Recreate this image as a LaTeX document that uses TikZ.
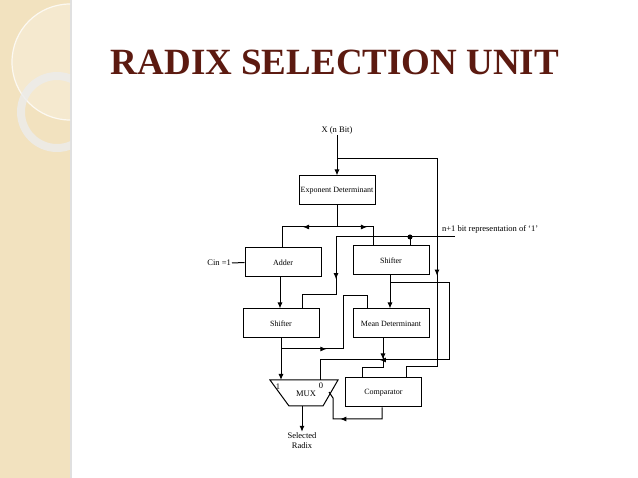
\documentclass[tikz,border=0pt]{standalone}
\usepackage{fontspec}
\setmainfont{Liberation Serif}
\usetikzlibrary{arrows.meta,decorations.markings}
\definecolor{strip}{HTML}{F2E2BF}
\definecolor{titlec}{HTML}{5C1A10}
\tikzset{
  box/.style={draw,line width=1pt,minimum width=76pt,minimum height=29pt,inner sep=0pt,font=\fontsize{8}{9}\selectfont},
  lbl/.style={font=\fontsize{8.5}{10}\selectfont,inner sep=1pt},
  wire/.style={draw,line width=1pt},
  mid/.style={postaction={decorate},decoration={markings,mark=at position #1 with {\arrow{Latex[length=6pt,width=5pt]}}}},
  tip/.style={-{Latex[length=6pt,width=5pt]}}
}
\begin{document}
\begin{tikzpicture}[x=1pt,y=-1pt]
\useasboundingbox (0,0) rectangle (638,478);
\fill[strip] (0,0) rectangle (70,478);
\fill[black!12] (70,0) rectangle (72,478);
\begin{scope}
\clip (0,0) rectangle (70,478);
\fill[white,opacity=0.25] (70,62) circle (58);
\draw[white!80!strip,line width=1.2pt] (70,62) circle (58);
\draw[white!85!gray,line width=8pt,opacity=0.8] (57,112) circle (36);
\end{scope}
\node[font=\bfseries\fontsize{37}{40}\selectfont,text=titlec] (title) at (335,62) {RADIX SELECTION UNIT};

% nodes
\node[lbl] (x) at (337,130) {X (n Bit)};
\node[box] (exp) at (337,190.5) {Exponent Determinant};
\node[box] (add) at (283,262.5) {Adder};
\node[box] (sh1) at (391,260.5) {Shifter};
\node[box] (sh2) at (281,323.5) {Shifter};
\node[box] (mean) at (391,323.5) {Mean Determinant};
\node[box] (cmp) at (383.5,392.5) {Comparator};
\node[lbl,anchor=east] (cin) at (232,263) {Cin =1};
\node[lbl,anchor=west] (rep) at (441,229) {n+1 bit representation of `1'};
\draw[line width=1pt] (270,380) -- (338,380) -- (323,406) -- (289,406) -- cycle;
\coordinate (muxt1) at (281,380);
\coordinate (muxt0) at (320,380);
\coordinate (muxb) at (302,406);
\node[lbl] (m1) at (278,387) {1};
\node[lbl] (m0) at (321,386) {0};
\node[lbl] (mux) at (306,394) {MUX};
\node[lbl,align=center] (sel) at (302,441) {Selected\\Radix};

% wires
\draw[wire,tip] (x.south) -- (exp.north);
\draw[wire,mid=0.62] (337,159) -- (437,159) -- (437,367) -- (406,367) -- (cmp.north -| 406,0);
\draw[wire] (exp.south) -- (337,227);
\draw[wire,mid=0.45] (337,227) -- (282,227) -- (add.north -| 282,0);
\draw[wire,mid=0.55] (337,227) -- (373,227) -- (sh1.north -| 373,0);
\draw[wire] (cin.east) -- (add.west);
\draw[wire] (455,237) -- (336,237);
\fill (410,237) circle (2.5);
\draw[wire] (410,237) -- (sh1.north -| 410,0);
\draw[wire,mid=0.4] (336,237) -- (336,295) -- (302,295) -- (sh2.north -| 302,0);
\draw[wire,tip] (add.south -| 280,0) -- (sh2.north -| 280,0);
\draw[wire,tip] (sh1.south -| 390,0) -- (mean.north -| 390,0);
\draw[wire,mid=0.72] (390,283) -- (449,283) -- (449,360) -- (320,360) -- (muxt0);
\draw[wire,tip] (sh2.south) -- (muxt1);
\draw[wire,mid=0.3] (281,349) -- (343,349) -- (343,296) -- (367,296) -- (mean.north -| 367,0);
\draw[wire,mid=0.35] (mean.south -| 383,0) -- (383,368) -- (362,368) -- (cmp.north -| 362,0);
\draw[wire,mid=0.6] (cmp.south -| 382,0) -- (382,419) -- (333,419) -- (333,398) -- (329,392);
\draw[wire,tip] (muxb) -- (sel.north);
\end{tikzpicture}
\end{document}
